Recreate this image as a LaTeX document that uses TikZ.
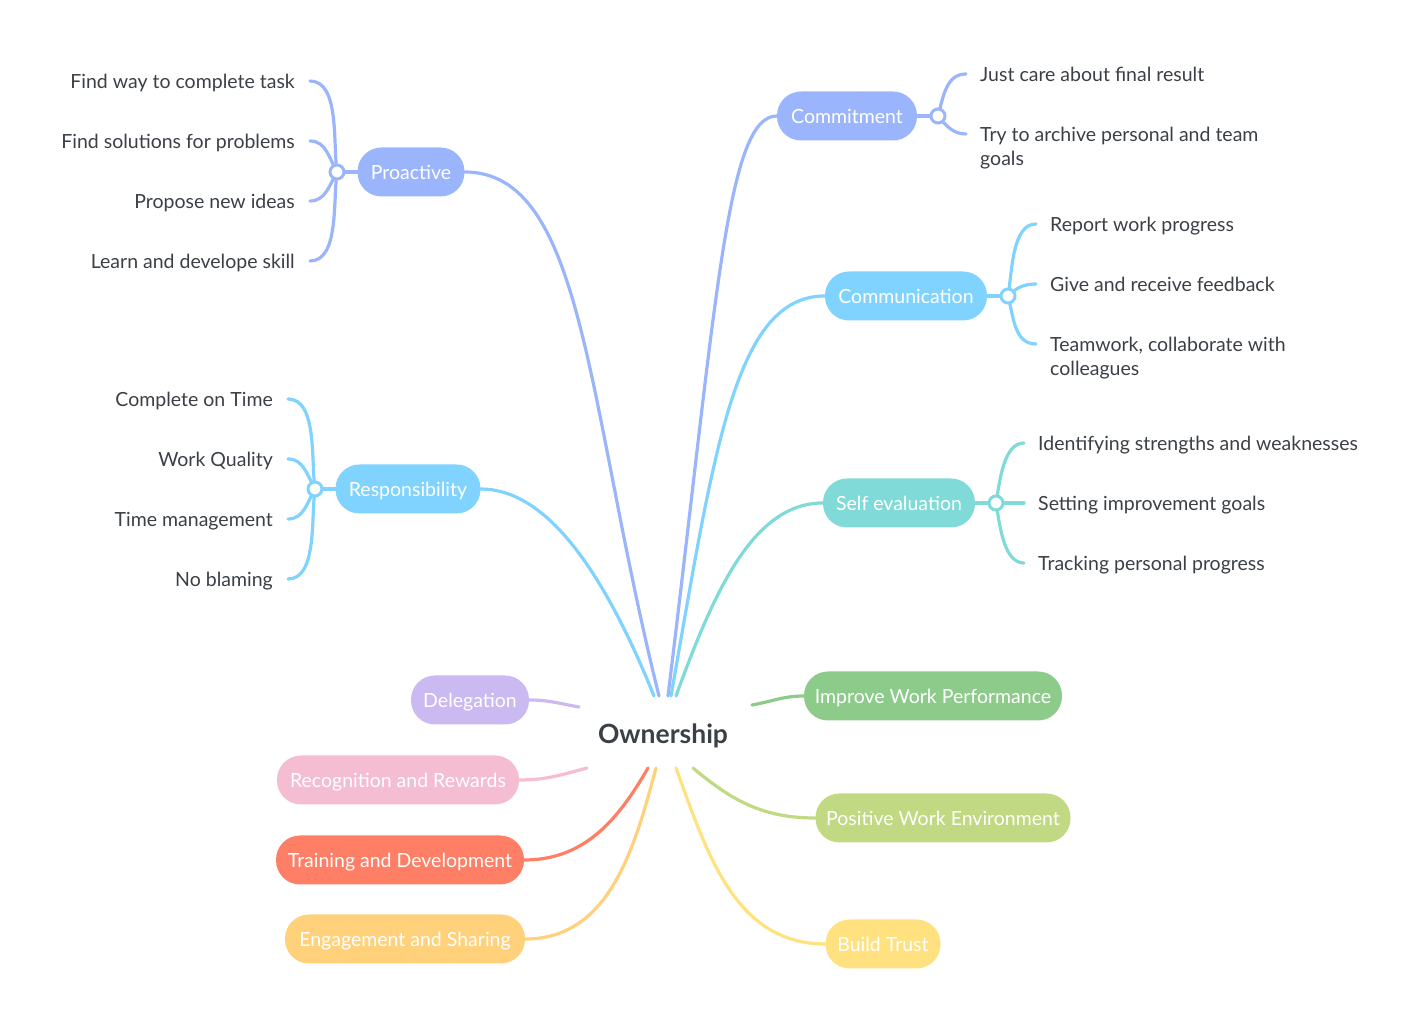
\documentclass[tikz,border=0pt]{standalone}
\usepackage{fontspec}
\setmainfont{Lato}
\usepackage{tikz}
\usepackage{xcolor}

\definecolor{cPeri}{HTML}{9AB5FB}
\definecolor{cSky}{HTML}{80D3FF}
\definecolor{cTeal}{HTML}{80DAD8}
\definecolor{cGreen}{HTML}{8DCB8B}
\definecolor{cLime}{HTML}{C0D982}
\definecolor{cYellow}{HTML}{FFE27F}
\definecolor{cOrange}{HTML}{FFD17B}
\definecolor{cCoral}{HTML}{FF7F66}
\definecolor{cPink}{HTML}{F5BDD1}
\definecolor{cLav}{HTML}{CBB9F2}
\definecolor{txt}{HTML}{3B4046}

\tikzset{
	pill/.style={rectangle, rounded corners=24pt, minimum height=49pt, inner xsep=10pt, text=white, font=\fontsize{19.5}{22}\selectfont, text height=16pt, text depth=0pt},
	leaf/.style={inner sep=0pt, text=txt, font=\fontsize{19.5}{24}\selectfont, text height=16pt, text depth=1pt},
	leaftwo/.style={inner sep=0pt, text=txt, font=\fontsize{19.5}{24}\selectfont, align=left},
	hub/.style={circle, draw=#1, fill=white, line width=3pt, minimum size=14pt, inner sep=0pt},
	link/.style={line width=3.2pt, line cap=round}
}

\begin{document}
\begin{tikzpicture}[x=1pt, y=1pt]
	\useasboundingbox (0,0) rectangle (1422,1020);
	% centre and main topics
	\node[text=txt, font=\fontsize{26.5}{30}\selectfont\bfseries] (own) at (663,284) {Ownership};
	\node[pill, fill=cPeri, minimum width=107pt] (prop) at (411,848) {Proactive};
	\node[pill, fill=cPeri, minimum width=140pt] (comm) at (847,904) {Commitment};
	\node[pill, fill=cSky, minimum width=162pt] (commu) at (906,724) {Communication};
	\node[pill, fill=cTeal, minimum width=152pt] (self) at (899,517) {Self evaluation};
	\node[pill, fill=cSky, minimum width=145pt] (resp) at (408,531) {Responsibility};
	\node[pill, fill=cGreen, minimum width=258pt] (impr) at (933,324) {Improve Work Performance};
	\node[pill, fill=cLime, minimum width=255pt] (posi) at (943,202) {Positive Work Environment};
	\node[pill, fill=cYellow, minimum width=115pt] (trust) at (883,76) {Build Trust};
	\node[pill, fill=cOrange, minimum width=240pt] (engage) at (405,81) {Engagement and Sharing};
	\node[pill, fill=cCoral, minimum width=248pt] (train) at (400,160) {Training and Development};
	\node[pill, fill=cPink, minimum width=242pt] (recog) at (398,240) {Recognition and Rewards};
	\node[pill, fill=cLav, minimum width=118pt] (deleg) at (470,320) {Delegation};

	% topic -> centre
	\draw[link, cPeri] (prop.east) to[out=0, in=104, out distance=120pt, in distance=300pt] ([shift={(-4,40)}]own.center);
	\draw[link, cSky] (resp.east) to[out=0, in=112, out distance=60pt, in distance=150pt] ([shift={(-9,40)}]own.center);
	\draw[link, cPeri] (comm.west) to[out=180, in=83, out distance=50pt, in distance=400pt] ([shift={(5,40)}]own.center);
	\draw[link, cSky] (commu.west) to[out=180, in=80, out distance=90pt, in distance=250pt] ([shift={(8,40)}]own.center);
	\draw[link, cTeal] (self.west) to[out=180, in=70, out distance=70pt, in distance=110pt] ([shift={(13,40)}]own.center);
	\draw[link, cGreen] (impr.west) to[out=180, in=10] ([shift={(89,31)}]own.center);
	\draw[link, cLime] (posi.west) to[out=180, in=-40] ([shift={(30,-32)}]own.center);
	\draw[link, cYellow] (trust.west) to[out=180, in=-70] ([shift={(13,-32)}]own.center);
	\draw[link, cOrange] (engage.east) to[out=0, in=-105] ([shift={(-7,-32)}]own.center);
	\draw[link, cCoral] (train.east) to[out=0, in=-120] ([shift={(-15,-32)}]own.center);
	\draw[link, cPink] (recog.east) to[out=0, in=195] ([shift={(-76,-32)}]own.center);
	\draw[link, cLav] (deleg.east) to[out=0, in=170] ([shift={(-84,29)}]own.center);

	% Proactive
	\coordinate (hp) at (337,848);
	\coordinate (lp1) at (310,939);
	\coordinate (lp2) at (310,879);
	\coordinate (lp3) at (310,819);
	\coordinate (lp4) at (310,759);
	\node[leaf, anchor=east] (tp1) at (295,939) {Find way to complete task};
	\node[leaf, anchor=east] (tp2) at (295,879) {Find solutions for problems};
	\node[leaf, anchor=east] (tp3) at (295,819) {Propose new ideas};
	\node[leaf, anchor=east] (tp4) at (295,759) {Learn and develope skill};
	\draw[link, cPeri] (hp) to[out=98, in=0, looseness=0.8] (lp1);
	\draw[link, cPeri] (hp) to[out=120, in=0] (lp2);
	\draw[link, cPeri] (hp) to[out=240, in=0] (lp3);
	\draw[link, cPeri] (hp) to[out=262, in=0, looseness=0.8] (lp4);
	\draw[link, cPeri] (prop.west) -- (hp);
	\node[hub=cPeri] (hprop) at (hp) {};

	% Responsibility
	\coordinate (hr) at (315,531);
	\coordinate (lr1) at (288,621);
	\coordinate (lr2) at (288,561);
	\coordinate (lr3) at (288,501);
	\coordinate (lr4) at (288,441);
	\node[leaf, anchor=east] (tr1) at (273,621) {Complete on Time};
	\node[leaf, anchor=east] (tr2) at (273,561) {Work Quality};
	\node[leaf, anchor=east] (tr3) at (273,501) {Time management};
	\node[leaf, anchor=east] (tr4) at (273,441) {No blaming};
	\draw[link, cSky] (hr) to[out=98, in=0, looseness=0.8] (lr1);
	\draw[link, cSky] (hr) to[out=120, in=0] (lr2);
	\draw[link, cSky] (hr) to[out=240, in=0] (lr3);
	\draw[link, cSky] (hr) to[out=262, in=0, looseness=0.8] (lr4);
	\draw[link, cSky] (resp.west) -- (hr);
	\node[hub=cSky] (hresp) at (hr) {};

	% Commitment
	\coordinate (hc) at (938,904);
	\coordinate (lc1) at (966,946);
	\coordinate (lc2) at (966,886);
	\node[leaf, anchor=west] (tc1) at (980,946) {Just care about final result};
	\node[leaftwo, anchor=north west] (tc2) at (980,893) {Try to archive personal and team\\goals};
	\draw[link, cPeri] (hc) to[out=75, in=180] (lc1);
	\draw[link, cPeri] (hc) to[out=-50, in=180] (lc2);
	\draw[link, cPeri] (comm.east) -- (hc);
	\node[hub=cPeri] (hcomm) at (hc) {};

	% Communication
	\coordinate (hm) at (1008,724);
	\coordinate (lm1) at (1036,796);
	\coordinate (lm2) at (1036,736);
	\coordinate (lm3) at (1036,676);
	\node[leaf, anchor=west] (tm1) at (1050,796) {Report work progress};
	\node[leaf, anchor=west] (tm2) at (1050,736) {Give and receive feedback};
	\node[leaftwo, anchor=north west] (tm3) at (1050,683) {Teamwork, collaborate with\\colleagues};
	\draw[link, cSky] (hm) to[out=80, in=180, looseness=0.8] (lm1);
	\draw[link, cSky] (hm) to[out=45, in=180] (lm2);
	\draw[link, cSky] (hm) to[out=-75, in=180] (lm3);
	\draw[link, cSky] (commu.east) -- (hm);
	\node[hub=cSky] (hcommu) at (hm) {};

	% Self evaluation
	\coordinate (hs) at (996,517);
	\coordinate (ls1) at (1024,577);
	\coordinate (ls2) at (1024,517);
	\coordinate (ls3) at (1024,457);
	\node[leaf, anchor=west] (ts1) at (1038,577) {Identifying strengths and weaknesses};
	\node[leaf, anchor=west] (ts2) at (1038,517) {Setting improvement goals};
	\node[leaf, anchor=west] (ts3) at (1038,457) {Tracking personal progress};
	\draw[link, cTeal] (hs) to[out=80, in=180, looseness=0.8] (ls1);
	\draw[link, cTeal] (hs) -- (ls2);
	\draw[link, cTeal] (hs) to[out=-80, in=180, looseness=0.8] (ls3);
	\draw[link, cTeal] (self.east) -- (hs);
	\node[hub=cTeal] (hself) at (hs) {};
\end{tikzpicture}
\end{document}
